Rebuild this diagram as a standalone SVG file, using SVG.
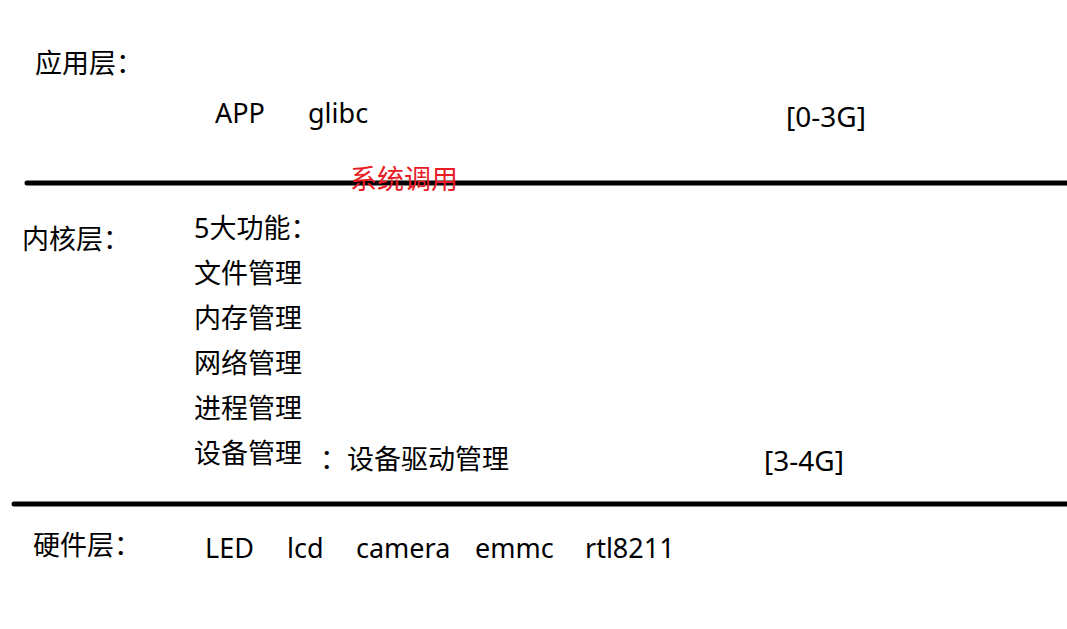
<svg xmlns="http://www.w3.org/2000/svg" width="1067" height="629" viewBox="0 0 1067 629">
<style>
text{font-family:"Noto Sans","Noto Sans CJK SC",sans-serif;font-size:27px;fill:#000}
.red{fill:#e81c24}
.br{font-size:28px}
.sep{stroke:#000;stroke-width:5;stroke-linecap:round}
</style>
<rect width="1067" height="629" fill="#fff"/>
<g id="connectors">
<line class="sep" x1="27" y1="183" x2="1070" y2="183"/>
<line class="sep" x1="14" y1="504" x2="1070" y2="504"/>
</g>
<g id="app-layer">
<text x="35" y="73">应用层：</text>
<text x="215" y="123">APP</text>
<text x="308" y="123">glibc</text>
<text class="br" x="786" y="127">[0-3G]</text>
</g>
<g id="syscall">
<text class="red" x="350" y="189">系统调用</text>
</g>
<g id="kernel-layer">
<text x="22" y="249">内核层：</text>
<text x="194" y="238">5大功能：</text>
<text x="194" y="283">文件管理</text>
<text x="194" y="328">内存管理</text>
<text x="194" y="373">网络管理</text>
<text x="194" y="418">进程管理</text>
<text x="194" y="463">设备管理</text>
<text x="320" y="469">：设备驱动管理</text>
<text class="br" x="764" y="471">[3-4G]</text>
</g>
<g id="hardware-layer">
<text x="33" y="555">硬件层：</text>
<text x="205" y="558">LED</text>
<text x="287" y="558">lcd</text>
<text x="356" y="558">camera</text>
<text x="475" y="558">emmc</text>
<text x="585" y="558">rtl8211</text>
</g>
</svg>
